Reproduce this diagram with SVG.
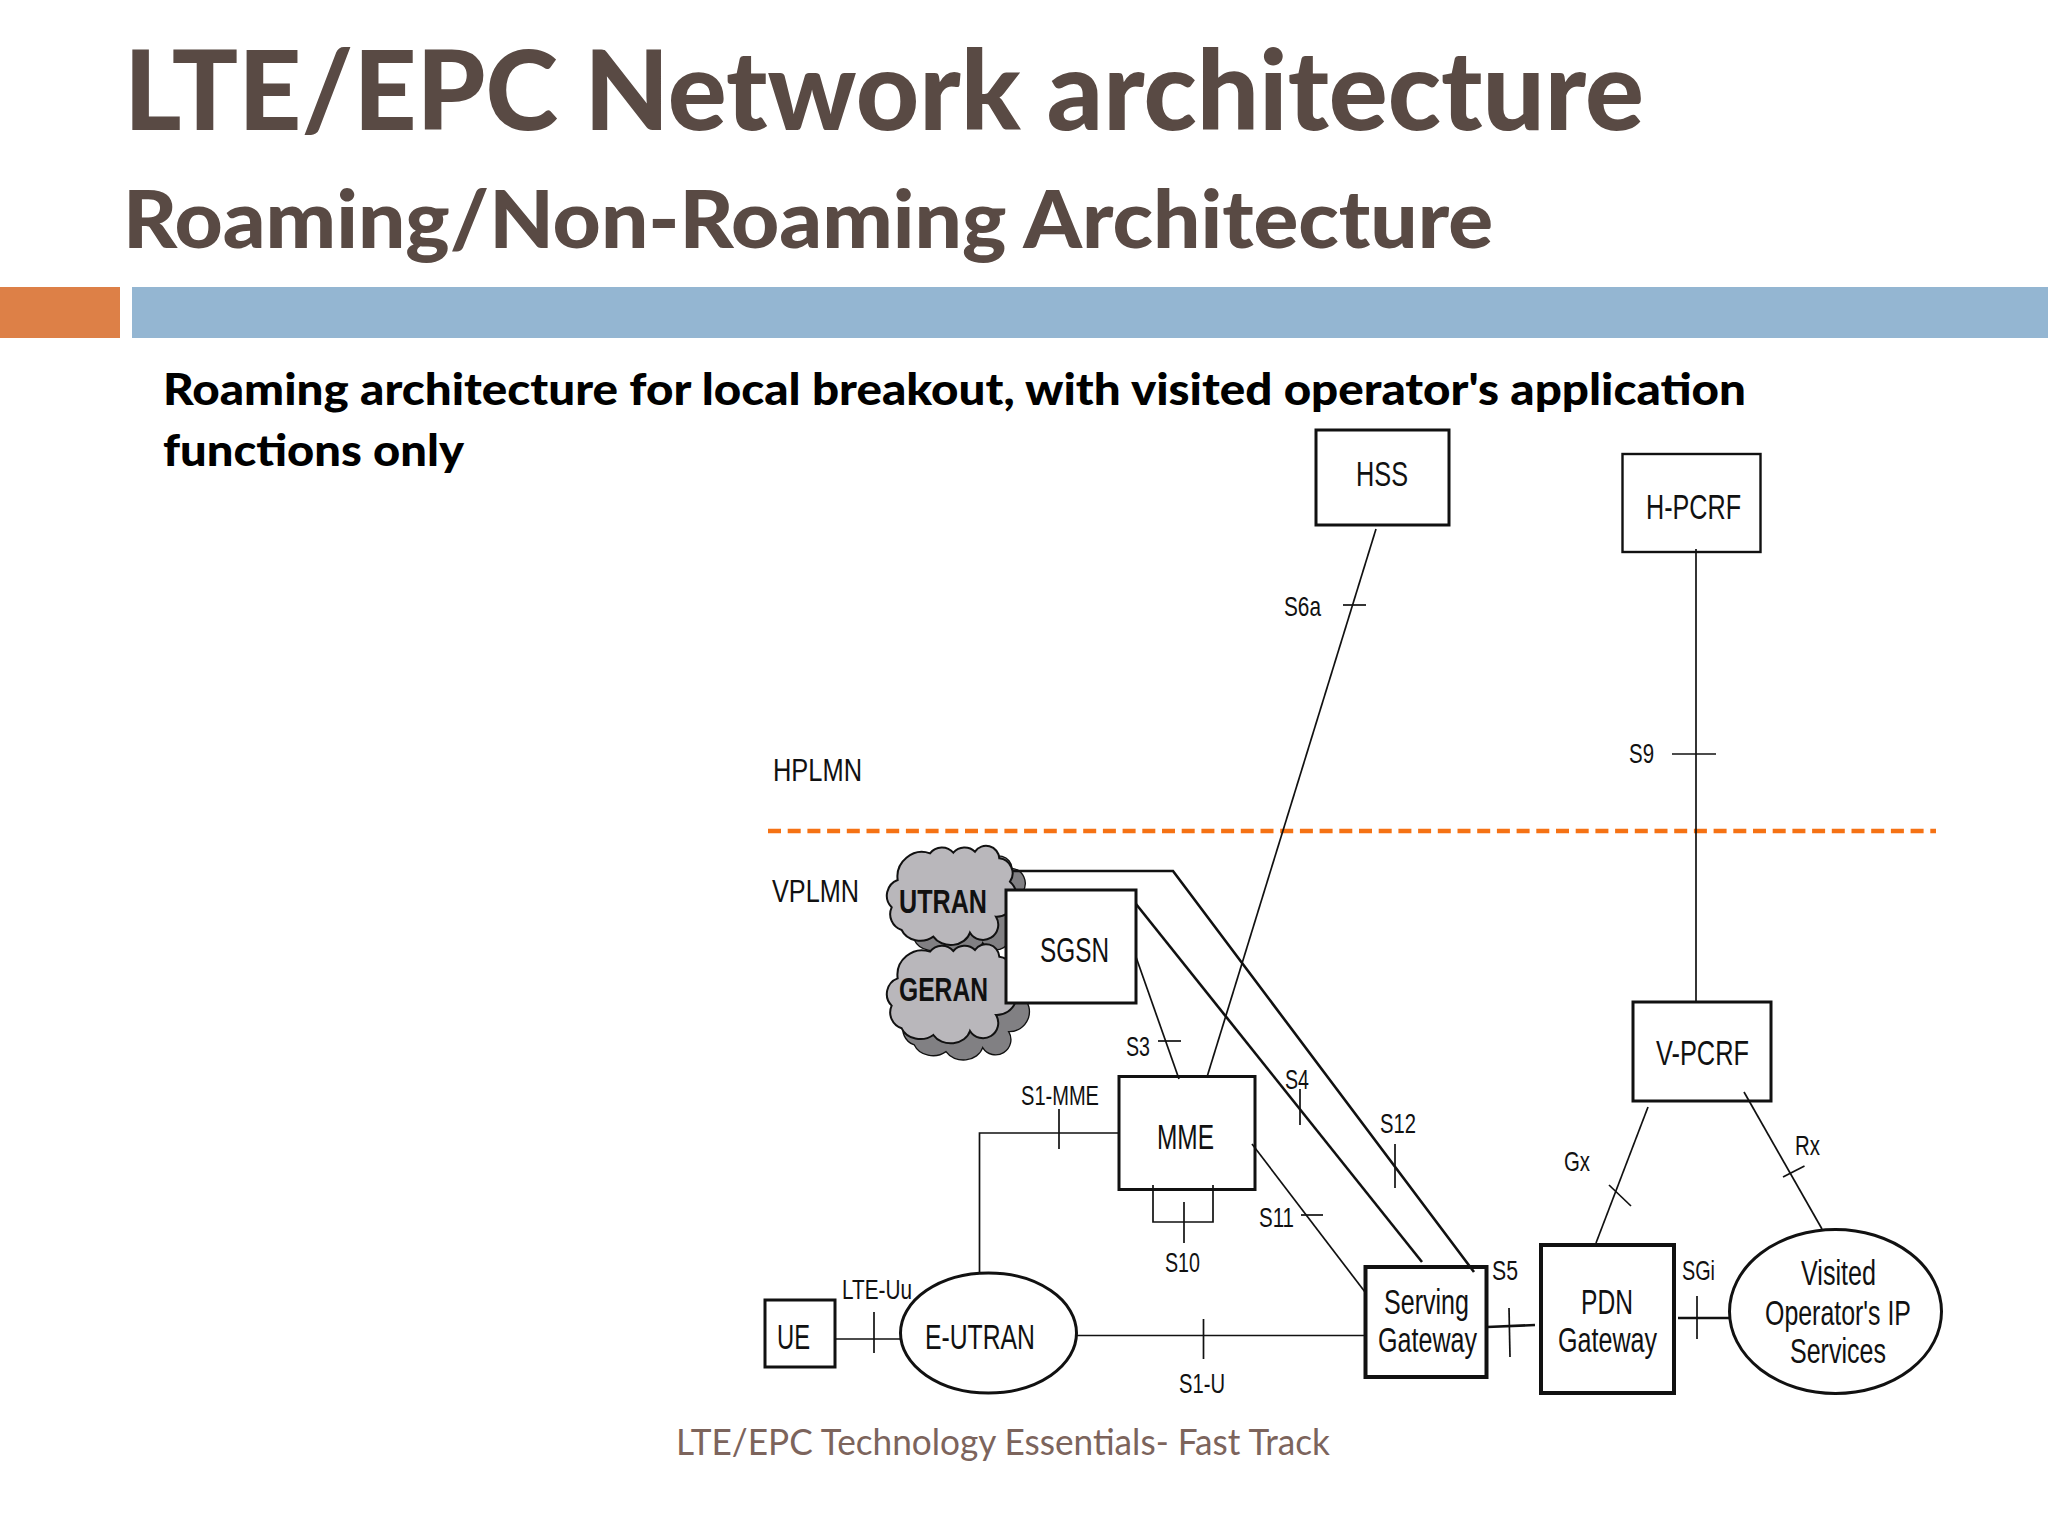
<svg xmlns="http://www.w3.org/2000/svg" xmlns:xlink="http://www.w3.org/1999/xlink" width="2048" height="1536" viewBox="0 0 2048 1536">
<style>
text{font-family:"Liberation Sans",Arial,sans-serif;fill:#111}
.t1{font-family:Lato,"Liberation Sans",sans-serif;font-weight:900;fill:#594a44;font-size:110px}
.t2{font-family:Lato,"Liberation Sans",sans-serif;font-weight:900;fill:#594a44;font-size:80px}
.b{font-family:Lato,"Liberation Sans",sans-serif;font-weight:900;fill:#000;font-size:43px}
.f{font-family:Lato,"Liberation Sans",sans-serif;fill:#7c645c;font-size:36px}
.n{font-size:35px}
.l{font-size:27.5px}
.c{font-size:34px;font-weight:700}
.box{fill:#fff;stroke:#111;stroke-width:3}
.thick{stroke-width:4}
.thin{fill:none;stroke:#111;stroke-width:1.7}
.mid{fill:none;stroke:#111;stroke-width:2.6}
.hv{fill:none;stroke:#111;stroke-width:2.6}
.cl{fill:#b9b7bb;stroke:#111;stroke-width:6}
.cd{fill:#818083;stroke:#111;stroke-width:4}
</style>
<defs>
<path id="cloud" d="M113 180A74 74 0 0 1 210 100A45 45 0 0 1 280 98A45 45 0 0 1 345 95A40 40 0 0 1 418 115A45 45 0 0 1 450 185A60 60 0 0 1 408 290A45 45 0 0 1 330 338A60 50 0 0 1 220 350A60 50 0 0 1 125 330A50 50 0 0 1 95 262A50 50 0 0 1 113 180Z"/>
</defs>
<rect width="2048" height="1536" fill="#fff"/>
<g id="header">
<rect x="0" y="287" width="120" height="51" fill="#dd8047"/>
<rect x="132" y="287" width="1916" height="51" fill="#94b6d2"/>
<text class="t1" x="124" y="130" textLength="1520" lengthAdjust="spacingAndGlyphs">LTE/EPC Network architecture</text>
<text class="t2" x="123" y="248" textLength="1370" lengthAdjust="spacingAndGlyphs">Roaming/Non-Roaming Architecture</text>
<text class="b" x="163" y="405" textLength="1583" lengthAdjust="spacingAndGlyphs">Roaming architecture for local breakout, with visited operator's application</text>
<text class="b" x="163" y="466" textLength="301" lengthAdjust="spacingAndGlyphs">functions only</text>
<text class="f" x="676" y="1455" textLength="654" lengthAdjust="spacingAndGlyphs">LTE/EPC Technology Essentials- Fast Track</text>
</g>
<g id="domains">
<line x1="768" y1="831" x2="1936" y2="831" stroke="#f57214" stroke-width="4.500" stroke-dasharray="13 6.7"/>
<text class="n" x="773" y="781" textLength="89" lengthAdjust="spacingAndGlyphs" style="font-size:32px">HPLMN</text>
<text class="n" x="772" y="902" textLength="87" lengthAdjust="spacingAndGlyphs" style="font-size:32px">VPLMN</text>
</g>
<g id="clouds" transform="translate(860 820) scale(0.3333)">
<use xlink:href="#cloud" href="#cloud" class="cd" transform="translate(38 30)"/>
<use xlink:href="#cloud" href="#cloud" class="cd" transform="translate(38 345)"/>
<use xlink:href="#cloud" href="#cloud" class="cl"/>
<use xlink:href="#cloud" href="#cloud" class="cl" transform="translate(0 295)"/>
</g>
<g id="utran"><text class="c" x="899" y="913" textLength="88" lengthAdjust="spacingAndGlyphs">UTRAN</text></g>
<g id="geran"><text class="c" x="899" y="1001" textLength="89" lengthAdjust="spacingAndGlyphs">GERAN</text></g>
<g id="hss"><rect class="box" x="1316" y="430" width="133" height="95"/><text class="n" x="1356" y="486" textLength="52" lengthAdjust="spacingAndGlyphs">HSS</text></g>
<g id="h-pcrf"><rect class="box" x="1622.500" y="454" width="138" height="98" style="stroke-width:2.400"/><text class="n" x="1646" y="519" textLength="95" lengthAdjust="spacingAndGlyphs">H-PCRF</text></g>
<g id="v-pcrf"><rect class="box" x="1633" y="1002" width="138" height="99"/><text class="n" x="1656" y="1065" textLength="93" lengthAdjust="spacingAndGlyphs">V-PCRF</text></g>
<g id="sgsn"><rect class="box" x="1006" y="890" width="130" height="113"/><text class="n" x="1040" y="962" textLength="69" lengthAdjust="spacingAndGlyphs">SGSN</text></g>
<g id="mme"><rect class="box" x="1119" y="1076.500" width="136" height="113"/><text class="n" x="1157" y="1149" textLength="57" lengthAdjust="spacingAndGlyphs">MME</text></g>
<g id="serving-gateway"><rect class="box thick" x="1365.500" y="1267" width="121" height="110"/><text class="n" x="1384" y="1314" textLength="85" lengthAdjust="spacingAndGlyphs">Serving</text><text class="n" x="1378" y="1352" textLength="99" lengthAdjust="spacingAndGlyphs">Gateway</text></g>
<g id="pdn-gateway"><rect class="box thick" x="1541" y="1245" width="133" height="148"/><text class="n" x="1581" y="1314" textLength="52" lengthAdjust="spacingAndGlyphs">PDN</text><text class="n" x="1558" y="1352" textLength="99" lengthAdjust="spacingAndGlyphs">Gateway</text></g>
<g id="ue"><rect class="box" x="765" y="1300" width="70" height="67"/><text class="n" x="777" y="1349" textLength="33" lengthAdjust="spacingAndGlyphs">UE</text></g>
<g id="e-utran"><ellipse class="box" cx="988.500" cy="1333" rx="88" ry="60"/><text class="n" x="925" y="1349" textLength="110" lengthAdjust="spacingAndGlyphs">E-UTRAN</text></g>
<g id="visited-ip"><ellipse class="box" cx="1835.500" cy="1311.500" rx="106" ry="82"/><text class="n" x="1801" y="1285" textLength="75" lengthAdjust="spacingAndGlyphs">Visited</text><text class="n" x="1765" y="1325" textLength="146" lengthAdjust="spacingAndGlyphs">Operator's IP</text><text class="n" x="1790" y="1363" textLength="96" lengthAdjust="spacingAndGlyphs">Services</text></g>
<g id="connectors">
<path class="mid" d="M1013 871H1173L1474 1272"/>
<path class="mid" d="M1136 904L1422 1262"/>
<path class="thin" d="M1376 529L1207 1077"/>
<path class="thin" d="M1136 957L1179 1079"/>
<path class="thin" d="M1696 549V1002"/>
<path class="thin" d="M1648 1107L1596 1243"/>
<path class="thin" d="M1744 1092L1822 1229"/>
<path class="thin" d="M1119 1133H979.500V1273"/>
<path class="thin" d="M1153 1185V1222H1213V1185"/>
<path class="thin" d="M1252 1144L1365 1292"/>
<path class="thin" d="M835 1339H900"/>
<path class="thin" d="M1077 1335.500H1365"/>
<path class="hv" d="M1487 1327L1535 1325"/>
<path class="hv" d="M1678 1318H1729"/>
</g>
<g id="ticks">
<path class="thin" d="M1343 605H1366"/>
<path class="thin" d="M1672 754H1716"/>
<path class="thin" d="M1158 1041H1181"/>
<path class="thin" d="M1300 1089V1125"/>
<path class="thin" d="M1395 1144V1188"/>
<path class="thin" d="M1609 1185L1631 1206"/>
<path class="thin" d="M1783 1177L1804.500 1166"/>
<path class="thin" d="M1059 1109V1149"/>
<path class="thin" d="M1184 1202V1243"/>
<path class="thin" d="M1301 1215H1323"/>
<path class="thin" d="M874 1312V1353"/>
<path class="thin" d="M1203.500 1319V1359"/>
<path class="thin" d="M1509 1308L1510 1357"/>
<path class="thin" d="M1697 1296V1339"/>
</g>
<g id="labels">
<text class="l" x="1284" y="616" textLength="37" lengthAdjust="spacingAndGlyphs">S6a</text>
<text class="l" x="1629" y="763" textLength="25" lengthAdjust="spacingAndGlyphs">S9</text>
<text class="l" x="1126" y="1056" textLength="24" lengthAdjust="spacingAndGlyphs">S3</text>
<text class="l" x="1285" y="1089" textLength="24" lengthAdjust="spacingAndGlyphs">S4</text>
<text class="l" x="1021" y="1105" textLength="78" lengthAdjust="spacingAndGlyphs">S1-MME</text>
<text class="l" x="1380" y="1133" textLength="36" lengthAdjust="spacingAndGlyphs">S12</text>
<text class="l" x="1564" y="1171" textLength="26" lengthAdjust="spacingAndGlyphs">Gx</text>
<text class="l" x="1795" y="1155" textLength="25" lengthAdjust="spacingAndGlyphs">Rx</text>
<text class="l" x="1259" y="1227" textLength="35" lengthAdjust="spacingAndGlyphs">S11</text>
<text class="l" x="1165" y="1272" textLength="35" lengthAdjust="spacingAndGlyphs">S10</text>
<text class="l" x="1492" y="1280" textLength="26" lengthAdjust="spacingAndGlyphs">S5</text>
<text class="l" x="1682" y="1280" textLength="33" lengthAdjust="spacingAndGlyphs">SGi</text>
<text class="l" x="842" y="1299" textLength="70" lengthAdjust="spacingAndGlyphs">LTE-Uu</text>
<text class="l" x="1179" y="1393" textLength="46" lengthAdjust="spacingAndGlyphs">S1-U</text>
</g>
</svg>
